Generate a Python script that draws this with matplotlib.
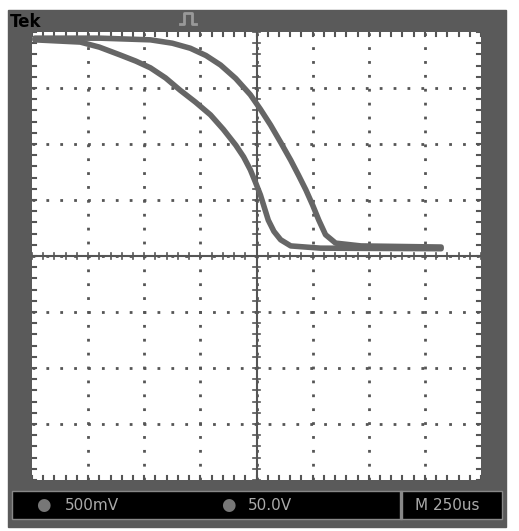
import matplotlib
matplotlib.use("Agg")
import matplotlib.pyplot as plt
from matplotlib.patches import Rectangle
from matplotlib.lines import Line2D

# trace data in divisions (x: 0..8, y: 0..8)
outer_x = [0.05, 1.21, 2.11, 2.50, 2.82, 3.10, 3.36, 3.63, 3.89, 4.07, 4.25, 4.43, 4.61, 4.75, 4.88, 5.00, 5.11, 5.23, 5.41, 5.86, 7.29]
outer_y = [7.89, 7.89, 7.86, 7.80, 7.71, 7.58, 7.41, 7.17, 6.88, 6.62, 6.34, 6.03, 5.71, 5.44, 5.18, 4.91, 4.64, 4.38, 4.23, 4.18, 4.16]
inner_x = [0.05, 0.86, 1.20, 1.57, 1.85, 2.11, 2.38, 2.64, 2.91, 3.18, 3.41, 3.63, 3.77, 3.89, 3.98, 4.07, 4.21, 4.31, 4.43, 4.61, 5.14, 7.29]
inner_y = [7.86, 7.82, 7.73, 7.59, 7.48, 7.36, 7.18, 6.96, 6.75, 6.52, 6.26, 5.98, 5.77, 5.54, 5.32, 5.09, 4.64, 4.44, 4.29, 4.18, 4.14, 4.13]

W, H = 519, 531
fig = plt.figure(figsize=(W/100, H/100), dpi=100)
fig.patch.set_facecolor("white")
fig.add_artist(Rectangle((8/W, 4/H), 498/W, 517/H, transform=fig.transFigure, color="#5a5a5a", zorder=0))
fig.add_artist(Rectangle((12/W, 12/H), 490/W, 28/H, transform=fig.transFigure, facecolor="black", edgecolor="#888", lw=1, zorder=1))
fig.add_artist(Rectangle((400/W, 12/H), 2/W, 28/H, transform=fig.transFigure, color="#888", zorder=2))
fig.text(10/W, 518/H, "Tek", fontsize=12, fontweight="bold", color="black", va="top")
# trigger pulse marker (shape)
px = [180, 184, 184, 192, 192, 196]
py = [507, 507, 518, 518, 507, 507]
fig.add_artist(Line2D([v/W for v in px], [v/H for v in py], transform=fig.transFigure, color="#999", lw=2))
fig.text(43/W, 26/H, "●", fontsize=12, color="#777", va="center", ha="center")
fig.text(65/W, 26/H, "500mV", fontsize=11, color="#aaa", va="center")
fig.text(228/W, 26/H, "●", fontsize=12, color="#777", va="center", ha="center")
fig.text(248/W, 26/H, "50.0V", fontsize=11, color="#aaa", va="center")
fig.text(415/W, 26/H, "M 250us", fontsize=11, color="#aaa", va="center")

ax = fig.add_axes([32/W, (H-480)/H, 449/W, 448/H])
ax.set_facecolor("white")
ax.set_xlim(0, 8); ax.set_ylim(0, 8)
for s in ax.spines.values():
    s.set_visible(False)
ax.set_xticks([]); ax.set_yticks([])
for i in range(1, 8):
    ax.axvline(i, color="#555", lw=2, ls=(0, (1, 4)), zorder=1)
    ax.axhline(i, color="#555", lw=2, ls=(0, (1, 4)), zorder=1)
ax.axvline(4, color="#555", lw=1.5, zorder=1)
ax.axhline(4, color="#555", lw=1.5, zorder=1)
for k in range(41):
    t = k * 0.2
    ax.plot([t, t], [3.94, 4.06], color="#555", lw=1.2)
    ax.plot([3.94, 4.06], [t, t], color="#555", lw=1.2)
    ax.plot([t, t], [0, 0.08], color="#555", lw=1.5)
    ax.plot([t, t], [7.92, 8], color="#555", lw=1.5)
    ax.plot([0, 0.08], [t, t], color="#555", lw=1.5)
    ax.plot([7.92, 8], [t, t], color="#555", lw=1.5)
ax.plot(outer_x, outer_y, color="#666", lw=4, solid_capstyle="round", zorder=3)
ax.plot(inner_x, inner_y, color="#666", lw=4, solid_capstyle="round", zorder=3)
fig.savefig("out.png", dpi=100)
